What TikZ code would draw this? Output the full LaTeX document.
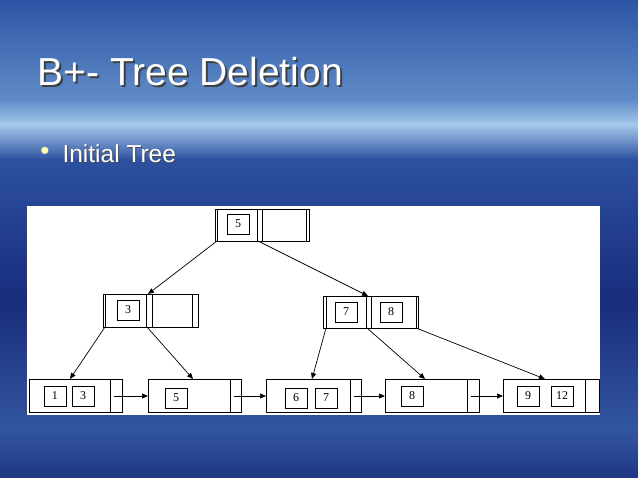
\documentclass[tikz,border=0pt]{standalone}
\usepackage{fontspec}
\setmainfont{Liberation Sans}
\newfontfamily\serif{Liberation Serif}
\usetikzlibrary{arrows.meta}
\definecolor{skyA}{RGB}{45,85,165}
\definecolor{skyB}{RGB}{95,140,200}
\definecolor{horiz}{RGB}{165,200,235}
\definecolor{seaA}{RGB}{45,80,160}
\definecolor{seaB}{RGB}{25,45,125}
\definecolor{seaC}{RGB}{50,85,160}
\definecolor{seaD}{RGB}{30,55,130}
\tikzset{
  box/.style={draw, line width=0.8pt},
  key/.style={draw, line width=0.8pt, font=\serif\fontsize{12}{12}\selectfont, inner sep=0pt, minimum width=22pt, minimum height=20pt},
  ptr/.style={line width=0.7pt, -{Triangle[length=6pt,width=5pt]}},
}
\begin{document}
\begin{tikzpicture}[x=1pt,y=-1pt]
\useasboundingbox (0,0) rectangle (638,478);
\shade[top color=skyA, bottom color=skyB] (0,0) rectangle (638,100);
\shade[top color=skyB, bottom color=horiz] (0,99.5) rectangle (638,125);
\shade[top color=horiz, bottom color=seaA] (0,124.5) rectangle (638,160);
\shade[top color=seaA, bottom color=seaB] (0,159.5) rectangle (638,300);
\shade[top color=seaB, bottom color=seaC] (0,299.5) rectangle (638,430);
\shade[top color=seaC, bottom color=seaD] (0,429.5) rectangle (638,478);
\fill[white] (27,206) rectangle (600,415);
% title
\node[anchor=west, text=black!75, font=\fontsize{39}{39}\selectfont] at (36,74) {B+- Tree Deletion};
\node[anchor=west, text=white, font=\fontsize{39}{39}\selectfont] (title) at (34,72) {B+- Tree Deletion};
\node[text=white!70!yellow, font=\fontsize{26}{26}\selectfont] (bul) at (45,153) {•};
\node[anchor=west, text=black!70, font=\fontsize{24.5}{24.5}\selectfont] at (60,155) {Initial Tree};
\node[anchor=west, text=white, font=\fontsize{24.5}{24.5}\selectfont] (sub) at (59,154) {Initial Tree};
% root
\draw[box] (215,209) rectangle (309,241);
\foreach \x in {217,257,262,306} \draw[box] (\x,209) -- (\x,241);
\node[key] (k5) at (238,224) {5};
\coordinate (rA) at (217,241); \coordinate (rB) at (258,241);
% internal 3
\draw[box] (103,294) rectangle (198,327);
\foreach \x in {105,146,152,192} \draw[box] (\x,294) -- (\x,327);
\node[key] (k3) at (128,310) {3};
\coordinate (iA) at (148,294); \coordinate (iAa) at (105,327); \coordinate (iAb) at (147,327);
% internal 7 8
\draw[box] (323,296) rectangle (418,328);
\foreach \x in {326,366,371,416} \draw[box] (\x,296) -- (\x,328);
\node[key] (k7) at (346,312) {7};
\node[key] (k8) at (391,312) {8};
\coordinate (iB) at (368,296); \coordinate (iBa) at (326,328); \coordinate (iBb) at (367,328); \coordinate (iBc) at (416,328);
% leaves
\foreach \n/\a/\b/\d in {L1/29/122/110, L2/148/241/230, L3/266/361/350, L4/385/479/467, L5/503/599/585}{
  \draw[box] (\a,379) rectangle (\b,412);
  \draw[box] (\d,379) -- (\d,412);
  \coordinate (\n) at ({(\a+\b)/2},379);
  \coordinate (\n w) at (\a,396);
  \coordinate (\n e) at ({\d+4},396);
}
\node[key] (l1) at (55,396) {1};
\node[key] (l3) at (83,396) {3};
\node[key] (l5) at (176,398) {5};
\node[key] (l6) at (296,398) {6};
\node[key] (l7) at (326,398) {7};
\node[key] (l8) at (412,396) {8};
\node[key] (l9) at (528,396) {9};
\node[key] (l12) at (562,396) {12};
% pointers
\draw[ptr] (rA) -- (iA);
\draw[ptr] (rB) -- (iB);
\draw[ptr] (iAa) -- (70,379);
\draw[ptr] (iAb) -- (193,379);
\draw[ptr] (iBa) -- (312,379);
\draw[ptr] (iBb) -- (425,379);
\draw[ptr] (iBc) -- (545,379);
\draw[ptr] (L1e) -- (L2w);
\draw[ptr] (L2e) -- (L3w);
\draw[ptr] (L3e) -- (L4w);
\draw[ptr] (L4e) -- (L5w);
\end{tikzpicture}
\end{document}
